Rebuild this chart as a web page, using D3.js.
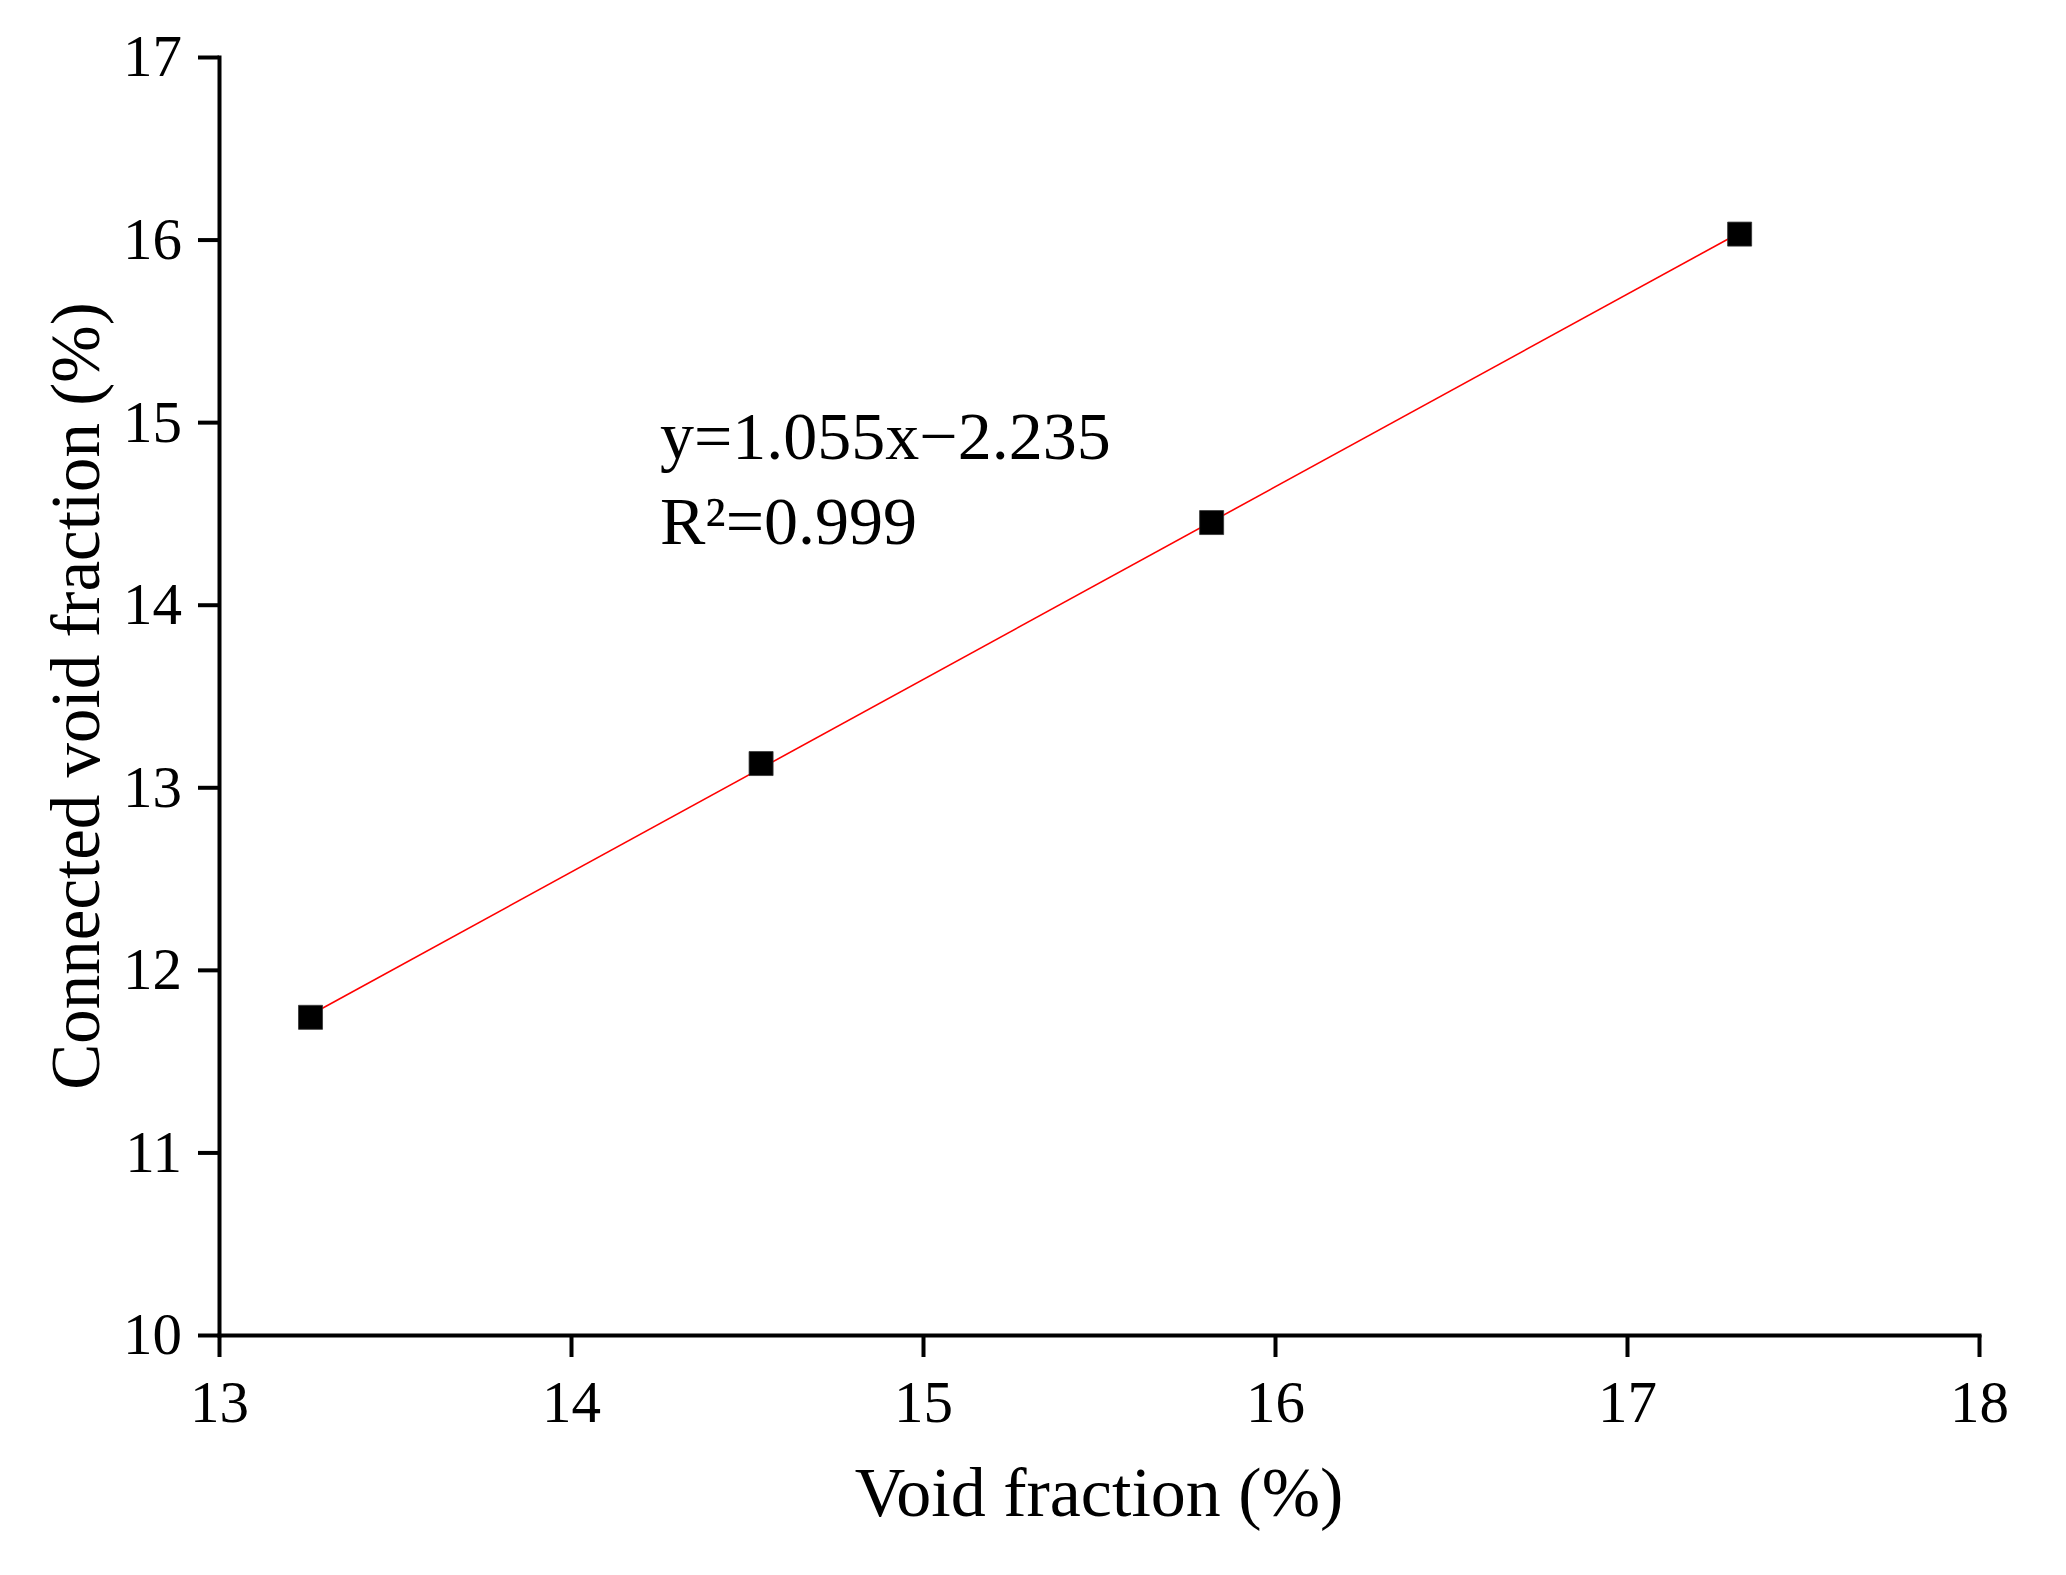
<!DOCTYPE html>
<html>
<head>
<meta charset="utf-8">
<script src="https://cdn.jsdelivr.net/npm/d3@7"></script>
<style>
  body { margin: 0; background: #fff; }
  text { font-family: "Liberation Serif", "Times New Roman", serif; fill: #000; }
</style>
</head>
<body>
<div id="chart_div"></div>
<script>
//data
var voidFraction = [13.26, 14.54, 15.82, 17.32];
var connectedVoid = [11.74, 13.13, 14.45, 16.03];
var xTicks = [13, 14, 15, 16, 17, 18];
var yTicks = [10, 11, 12, 13, 14, 15, 16, 17];
var fitSlope = 1.055;
var fitIntercept = -2.235;
var fitLabels = ["y=1.055x\u22122.235", "R\u00b2=0.999"];
var xTitle = "Void fraction (%)";
var yTitle = "Connected void fraction (%)";

//globals
var width = 2066;
var height = 1575;
var plotLeft = 219, plotRight = 1979, plotTop = 57, plotBottom = 1335;

var x = d3.scaleLinear().domain([13, 18]).range([plotLeft, plotRight]);
var y = d3.scaleLinear().domain([10, 17]).range([plotBottom, plotTop]);

var svg = d3.select('#chart_div')
    .append("svg")
    .attr("width", width)
    .attr("height", height);

svg.append("rect")
    .attr("width", width)
    .attr("height", height)
    .attr("fill", "#fff");

//axes
var xAxis = d3.axisBottom(x)
    .tickValues(xTicks)
    .tickFormat(d3.format("d"))
    .tickSize(22)
    .tickSizeOuter(0)
    .tickPadding(23);

var yAxis = d3.axisLeft(y)
    .tickValues(yTicks)
    .tickFormat(d3.format("d"))
    .tickSize(21)
    .tickSizeOuter(0)
    .tickPadding(16);

var gx = svg.append("g")
    .attr("transform", "translate(0," + plotBottom + ")")
    .call(xAxis);

var gy = svg.append("g")
    .attr("transform", "translate(" + plotLeft + ",0)")
    .call(yAxis);

[gx, gy].forEach(function(g) {
    g.select(".domain")
        .attr("stroke", "#000")
        .attr("stroke-width", 4)
        .attr("stroke-linecap", "square");
    g.selectAll(".tick line")
        .attr("stroke", "#000")
        .attr("stroke-width", 4);
    g.selectAll(".tick text")
        .style("font-size", "59px")
        .attr("fill", "#000");
});

//fit line
var xMin = d3.min(voidFraction), xMax = d3.max(voidFraction);
svg.append("line")
    .attr("x1", x(xMin))
    .attr("y1", y(fitSlope * xMin + fitIntercept))
    .attr("x2", x(xMax))
    .attr("y2", y(fitSlope * xMax + fitIntercept))
    .attr("stroke", "#ff0000")
    .attr("stroke-width", 1.6);

//points
var square = d3.symbol().type(d3.symbolSquare).size(24 * 24);
svg.selectAll(".pt")
    .data(voidFraction)
    .enter()
    .append("path")
    .attr("class", "pt")
    .attr("d", square)
    .attr("transform", function(d, i) {
        return "translate(" + x(d) + "," + y(connectedVoid[i]) + ")";
    })
    .attr("fill", "#000")
    .attr("stroke", "#333")
    .attr("stroke-width", 0.8);

//fit equation
svg.selectAll(".fitText")
    .data(fitLabels)
    .enter()
    .append("text")
    .attr("class", "fitText")
    .attr("x", 660)
    .attr("y", function(d, i) { return 459 + i * 85; })
    .style("font-size", "68px")
    .text(function(d) { return d; });

//axis titles
svg.append("text")
    .attr("x", (plotLeft + plotRight) / 2)
    .attr("y", 1516)
    .attr("text-anchor", "middle")
    .style("font-size", "70px")
    .text(xTitle);

svg.append("text")
    .attr("transform", "translate(99," + (plotTop + plotBottom) / 2 + ") rotate(-90)")
    .attr("text-anchor", "middle")
    .style("font-size", "69px")
    .text(yTitle);
</script>
</body>
</html>
